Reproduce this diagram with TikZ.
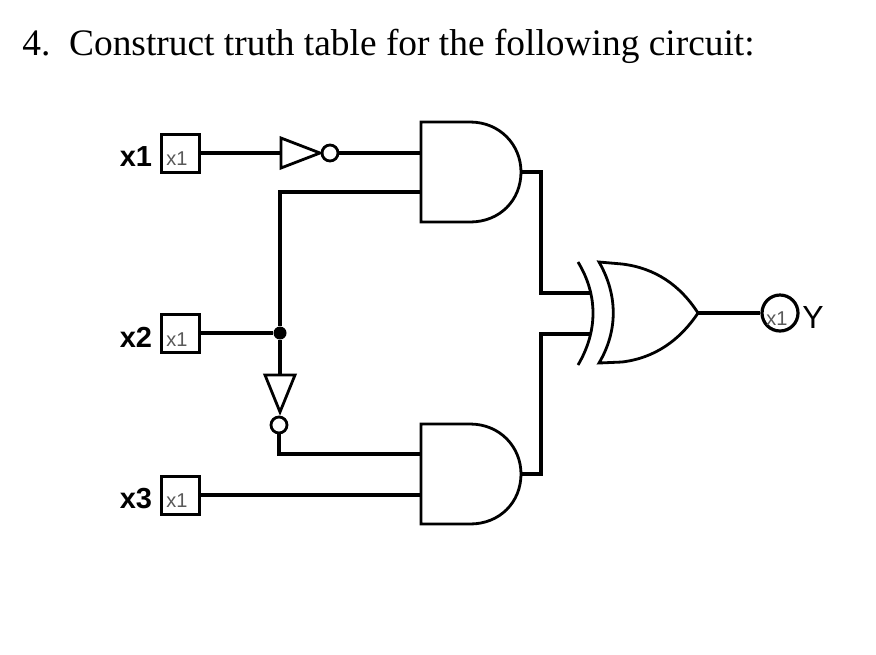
\documentclass[tikz,border=0pt]{standalone}
\usepackage{fontspec}
\setmainfont{Liberation Serif}
\setsansfont{Liberation Sans}
\tikzset{
  wire/.style={line width=2.4pt},
  gate/.style={line width=1.4pt, fill=white},
  inbox/.style={draw, line width=1.5pt, fill=white, minimum size=19pt, inner sep=0pt},
  boxtext/.style={inner sep=0pt, font=\sffamily\fontsize{10}{12}\selectfont, text=black!65},
  bubble/.style={circle, draw, line width=1.4pt, fill=white, inner sep=0pt, minimum size=8pt},
  outbub/.style={circle, draw, line width=1.6pt, fill=white, inner sep=0pt, minimum size=18pt},
  pinlabel/.style={font=\sffamily\bfseries\fontsize{14.5}{16}\selectfont},
  dotnode/.style={circle, fill=black, inner sep=0pt, minimum size=6.5pt}
}
\begin{document}
\begin{tikzpicture}[x=0.5pt, y=-0.5pt]
  \useasboundingbox (0,0) rectangle (876,654);
  \node[anchor=base west, inner sep=0pt, font=\fontsize{18.7}{22}\selectfont] (title) at (22,55)
    {4.\ \ Construct truth table for the following circuit:};
  % inputs
  \node[inbox] (x1) at (180,153) {};
  \node[inbox] (x2) at (180,333) {};
  \node[inbox] (x3) at (180,495) {};
  \node[boxtext] (tx1) at (177,159) {x1};
  \node[boxtext] (tx2) at (177,340) {x1};
  \node[boxtext] (tx3) at (177,501) {x1};
  \node[pinlabel] (lx1) at (136,157) {x1};
  \node[pinlabel] (lx2) at (136,337) {x2};
  \node[pinlabel] (lx3) at (136,499) {x3};
  % pins of the gates
  \coordinate (a1) at (421,153);
  \coordinate (a2) at (421,192);
  \coordinate (a3) at (521,172);
  \coordinate (b1) at (421,454);
  \coordinate (b2) at (421,494);
  \coordinate (b3) at (521,474);
  \coordinate (c1) at (591,293);
  \coordinate (c2) at (591,334);
  \coordinate (c3) at (698,313);
  \coordinate (inva) at (281,153);
  \coordinate (invb) at (280,375);
  \node[dotnode] (jn) at (280,333) {};
  \node[bubble] (na) at (330,153) {};
  \node[bubble] (nb) at (279,425) {};
  \node[outbub] (out) at (780,313) {};
  \node[boxtext] (tout) at (777,319) {x1};
  \node[anchor=west, inner sep=0pt, font=\sffamily\fontsize{16}{18}\selectfont] (ly) at (802,317) {Y};
  % wires
  \draw[wire] (x1) -- (inva);
  \draw[wire] (na) -- (a1);
  \draw[wire] (x2) -- (jn);
  \draw[wire] (jn) |- (a2);
  \draw[wire] (jn) -- (invb);
  \draw[wire] (nb) |- (b1);
  \draw[wire] (x3) -- (x3 -| b2);
  \draw[wire] (a3) -| (541,293) -- (c1);
  \draw[wire] (b3) -| (541,334) -- (c2);
  \draw[wire] (c3) -- (out);
  % inverters
  \draw[gate] (281,138) -- (320,153) -- (281,168) -- cycle;
  \draw[gate] (265,375) -- (295,375) -- (280,412) -- cycle;
  % and gates
  \draw[gate] (421,122) -- (470,122) .. controls (500,122) and (521,145) .. (a3)
    .. controls (521,200) and (500,222) .. (470,222) -- (421,222) -- cycle;
  \draw[gate] (421,424) -- (470,424) .. controls (500,424) and (521,447) .. (b3)
    .. controls (521,502) and (500,524) .. (470,524) -- (421,524) -- cycle;
  % xor gate
  \draw[gate, fill=none] (578,262) .. controls (598,295) and (598,331) .. (578,365);
  \draw[gate] (599,262) -- (622,264) .. controls (655,268) and (680,285) .. (c3)
    .. controls (680,340) and (655,358) .. (622,362) -- (599,363)
    .. controls (618,331) and (618,295) .. (599,262) -- cycle;
\end{tikzpicture}
\end{document}
